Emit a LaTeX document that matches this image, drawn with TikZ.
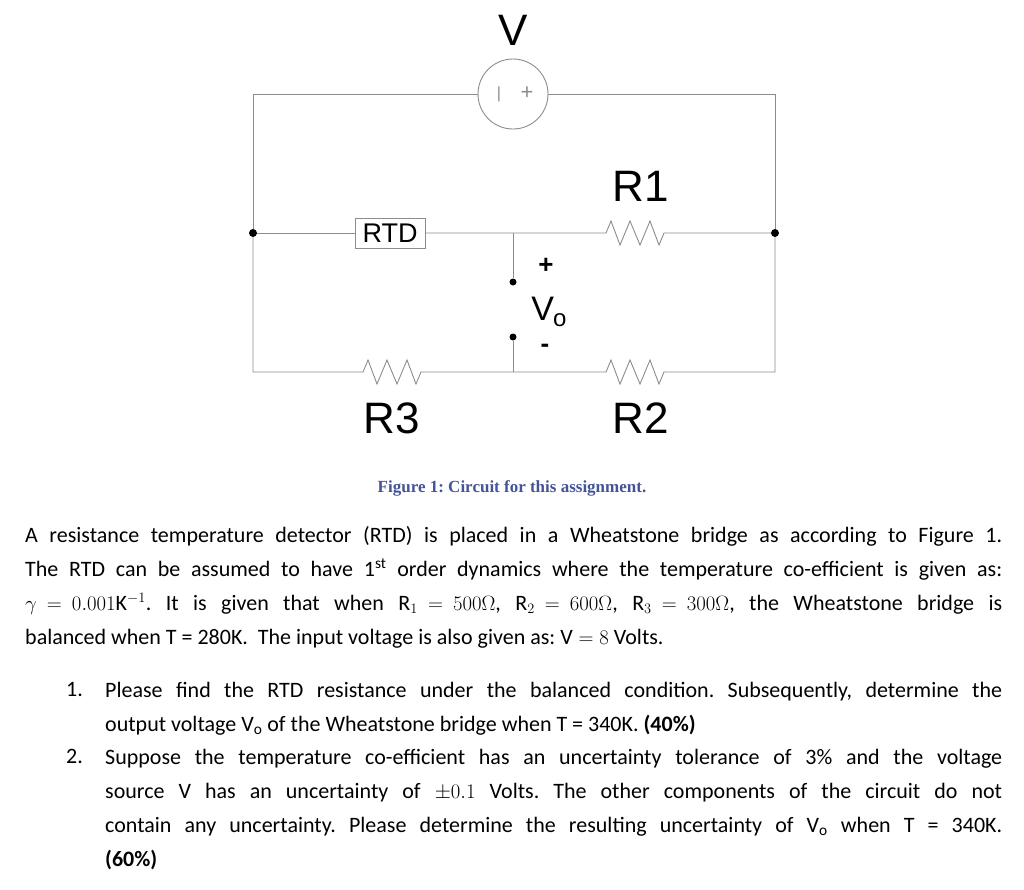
\documentclass[tikz,border=0pt]{standalone}
\usepackage{fontspec}
\setmainfont{Carlito}
\newfontfamily\arialf{Liberation Sans}
\newfontfamily\timesf{Liberation Serif}
\usepackage{amsmath}
\hyphenpenalty=10000
\frenchspacing
\begin{document}
\thickmuskip=5mu plus 1mu\relax
\medmuskip=4mu plus 1mu\relax
\begin{tikzpicture}[x=1pt,y=-1pt,
  wire/.style={draw=black!45,line width=0.9pt},
  dot/.style={circle,fill=black,inner sep=0pt,minimum size=8pt},
  big/.style={font=\arialf\fontsize{44}{46}\selectfont},
  body/.style={font=\fontsize{22}{34}\selectfont,anchor=north west,inner sep=0pt,align=justify}]
\useasboundingbox (0,0) rectangle (1024,889);
% nodes
\coordinate (TL) at (253,94); \coordinate (TR) at (775,94);
\node[dot] (ML) at (253,233) {}; \node[dot] (MR) at (775,233) {};
\coordinate (BL) at (253,372); \coordinate (BR) at (775,372);
\coordinate (MJ) at (513,233); \coordinate (BJ) at (513,372);
\node[circle,draw=black!45,line width=0.9pt,minimum size=70pt,inner sep=0pt] (V) at (513,94) {};
\node[font=\arialf\fontsize{16}{16}\selectfont,text=black!45] at (499,94) {|};
\node[font=\arialf\fontsize{22}{22}\selectfont,text=black!45] at (527,93) {+};
\node[draw=black!45,line width=0.9pt,font=\arialf\fontsize{27}{27}\selectfont,inner sep=1pt,minimum width=70pt,minimum height=30pt] (RTD) at (390,233) {RTD};
\node[dot,minimum size=7pt] (P1) at (513,282) {};
\node[dot,minimum size=7pt] (P2) at (513,337) {};
% wires
\draw[wire] (ML) |- (V.west);
\draw[wire] (V.east) -| (MR);
\draw[wire] (ML) -- (RTD.west);
\draw[wire] (RTD.east) -- (MJ) -- (606,233) -- (611,221) -- (620,245) -- (630,221) -- (640,245) -- (650,221) -- (659,245) -- (664,233) -- (MR);
\draw[wire] (ML) |- (BL) -- (363,372) -- (368,360) -- (377,384) -- (387,360) -- (397,384) -- (407,360) -- (416,384) -- (421,372) -- (BJ) -- (606,372) -- (611,360) -- (620,384) -- (630,360) -- (640,384) -- (650,360) -- (659,384) -- (664,372) -- (BR) -- (MR);
\draw[wire] (MJ) -- (P1);
\draw[wire] (P2) -- (BJ);
% labels
\node[big] at (513,30) {V};
\node[big] at (641,186) {R1};
\node[big] at (392,418) {R3};
\node[big] at (641,418) {R2};
\node[font=\arialf\bfseries\fontsize{26}{26}\selectfont] at (546,266) {+};
\node[font=\arialf\bfseries\fontsize{26}{26}\selectfont] at (545,348) {-};
\node[font=\arialf\fontsize{34}{34}\selectfont,inner sep=0pt] at (549,312) {V\kern-1pt\raisebox{-6pt}{\fontsize{24}{24}\selectfont o}};
\node[font=\timesf\bfseries\fontsize{17}{17}\selectfont,text={rgb,255:red,68;green,84;blue,150}] at (512,488) {Figure 1: Circuit for this assignment.};
\node[body,text width=977pt] at (25,526) {A resistance temperature detector (RTD) is placed in a Wheatstone bridge as according to Figure 1.\linebreak The RTD can be assumed to have 1\textsuperscript{st} order dynamics where the temperature co-efficient is given as:\linebreak $\gamma=0.001\mathrm{K}^{-1}$. It is given that when $\mathrm{R}_1=500\Omega$, $\mathrm{R}_2=600\Omega$, $\mathrm{R}_3=300\Omega$, the Wheatstone bridge is\linebreak balanced when T = 280K.\ \ The input voltage is also given as: $\mathrm{V}=8$ Volts.};
\node[body,align=left] at (66,682) {1.};
\node[body,text width=897pt] at (105,682) {Please find the RTD resistance under the balanced condition. Subsequently, determine the\linebreak output voltage $\mathrm{V}_\mathrm{o}$ of the Wheatstone bridge when T = 340K. \textbf{(40\%)}};
\node[body,align=left] at (66,749) {2.};
\node[body,text width=897pt] at (105,749) {Suppose the temperature co-efficient has an uncertainty tolerance of 3\% and the voltage\linebreak source V has an uncertainty of $\pm0.1$ Volts. The other components of the circuit do not\linebreak contain any uncertainty. Please determine the resulting uncertainty of $\mathrm{V}_\mathrm{o}$ when T = 340K.\linebreak \textbf{(60\%)}};
\end{tikzpicture}
\end{document}
